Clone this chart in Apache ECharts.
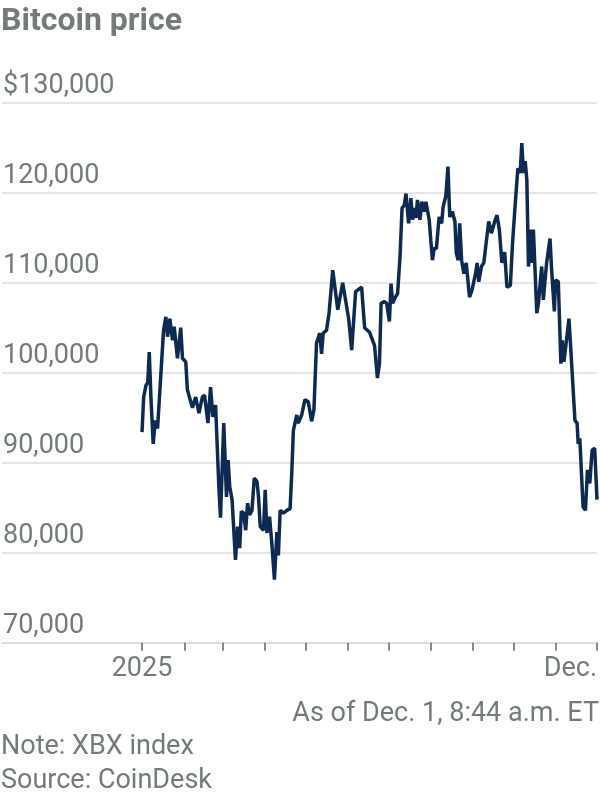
<!DOCTYPE html>
<html><head><meta charset="utf-8">
<script src="https://cdn.jsdelivr.net/npm/echarts@6/dist/echarts.min.js"></script>
<style>html,body{margin:0;padding:0;background:#fff}#c{width:600px;height:800px}</style>
</head><body><div id="c"></div>
<script>
// day of 2025 (0 = Jan 1)
const days = [0,1.2,2.9,4.2,5.3,6.6,8.2,9.7,11.4,13.9,15.8,17.5,18.7,20.4,22.4,23.6,26,28.4,29.7,32.1,33.3,37,39.4,41.8,44.3,45.9,48.4,50.3,52,54,56.4,57.6,60,62,63.2,64.4,66.1,68.6,70.2,71.7,72.9,74.6,76.1,77.5,79,80.7,82.4,84.4,85.5,86.8,89.2,90.4,91.7,93.6,95.3,97.2,99,100.1,101.4,103.8,106.3,108.7,109.9,111.1,113.6,114.7,117.2,119.6,122,124.5,126.2,128.1,130.5,131.8,133,135.4,137.3,140,143.7,147.3,151.7,153.9,156.8,161.2,163.4,167,170.7,172.8,174.3,175.5,177.9,179.6,181.6,182.8,184,186,187.6,189.4,190.9,192.5,193.8,195.7,197.4,198.6,199.8,201.1,202.2,204,205.4,207.1,208.4,210.8,212,213.2,214.4,216.1,218.1,220,221,223,224.6,225.9,227.8,229.7,230.7,232.1,233.2,234.6,236.3,238,240.4,242.3,244.8,246,247.2,249.2,250.9,252.6,254.5,256.5,258.9,260.6,262.3,264.2,266.2,267.9,270.4,272,274,275.9,277.6,278.8,280,281.3,282.5,283.7,285.7,286.6,287.3,289.8,291,293.4,294.6,297,299.5,300.7,302.7,303.6,305.6,307.5,308.5,309.7,311.6,313.4,314.8,316.5,317.8,319.4,320.2,321.4,322.6,323.8,325.5,327,328.7,330.4,332.3,333.5,334];
const prices = [93400,97300,98600,98900,102300,97000,92100,94700,93800,100000,104700,106200,104000,106000,103600,105100,101600,105000,101600,101200,98100,96100,97300,95500,97300,97500,94400,98400,95100,96400,87300,83900,94400,86200,90300,87300,85900,79200,82900,80500,84600,84400,82500,85500,84200,84700,88300,87900,86200,82900,82500,87000,82200,84000,81000,77000,82300,79700,84700,84400,84700,84900,88800,93600,95300,94400,95300,97000,96800,94600,95900,103300,104400,102100,104400,104700,106600,111400,107000,110000,106000,102500,109000,109500,105000,104500,103000,99400,101000,107700,107900,107700,105700,109900,107700,108400,108800,112900,118300,118600,119900,116600,119400,117000,118300,117200,119200,117000,119000,117900,119000,117000,114700,112500,113800,113800,117300,116600,118400,119600,122900,117300,117900,116800,113300,112500,116600,112500,111000,112200,108400,109200,111000,112200,110100,111800,112200,114400,116800,115500,116800,117500,115900,112200,113400,109500,109700,114400,118800,122700,122200,125500,122200,123500,121400,111800,115900,112200,115900,106600,107700,111800,108100,112200,114900,111400,106800,110300,110100,101000,103600,101200,103600,106000,102500,98100,94700,94400,92100,92700,88800,85100,84700,89200,87700,91400,91600,91400,85900];
const monthTicks = [0,31,59,90,120,151,181,212,243,273,304,334];
const xLabelValues = [0,334];
const xLabelText = {0:'2025',334:'Dec.'};

const gray = '#737b7c';
const chart = echarts.init(document.getElementById('c'));
chart.setOption({
  animation:false,
  textStyle:{fontFamily:'Roboto'},
  title:{text:'Bitcoin price',left:-4,top:1,textStyle:{fontFamily:'Roboto',fontSize:32,fontWeight:'bold',color:gray}},
  graphic:[
    {type:'text',right:1,top:701,style:{text:'As of Dec. 1, 8:44 a.m. ET',font:'27px Roboto',fill:gray}},
    {type:'text',left:1,top:734,style:{text:'Note: XBX index',font:'27px Roboto',fill:gray}},
    {type:'text',left:1,top:768,style:{text:'Source: CoinDesk',font:'27px Roboto',fill:gray}}
  ],
  grid:{left:0,right:1,top:102.7,bottom:157.3,containLabel:false},
  xAxis:{type:'value',min:-102.8,max:334,
    axisLine:{show:true,lineStyle:{color:'#dddddd',width:2}},
    axisTick:{show:true,customValues:monthTicks,length:8,lineStyle:{color:'#666',width:1.5}},
    axisLabel:{customValues:xLabelValues,formatter:v=>xLabelText[v]||'',fontSize:27,color:gray,margin:13,alignMaxLabel:'right',showMaxLabel:true,showMinLabel:true},
    splitLine:{show:false}},
  yAxis:{type:'value',min:70000,max:130000,interval:10000,
    axisLine:{show:false},axisTick:{show:false},
    axisLabel:{inside:true,verticalAlign:'bottom',margin:1,padding:[0,0,3,0],fontSize:27,color:gray,
      formatter:v=>(v===130000?'$':'')+v.toLocaleString('en-US')},
    splitLine:{lineStyle:{color:'#dddddd',width:1.5}}},
  series:[{type:'line',data:days.map((d,i)=>[d,prices[i]]),showSymbol:false,
    lineStyle:{color:'#0d2a52',width:3.5},z:5}]
});
</script></body></html>
